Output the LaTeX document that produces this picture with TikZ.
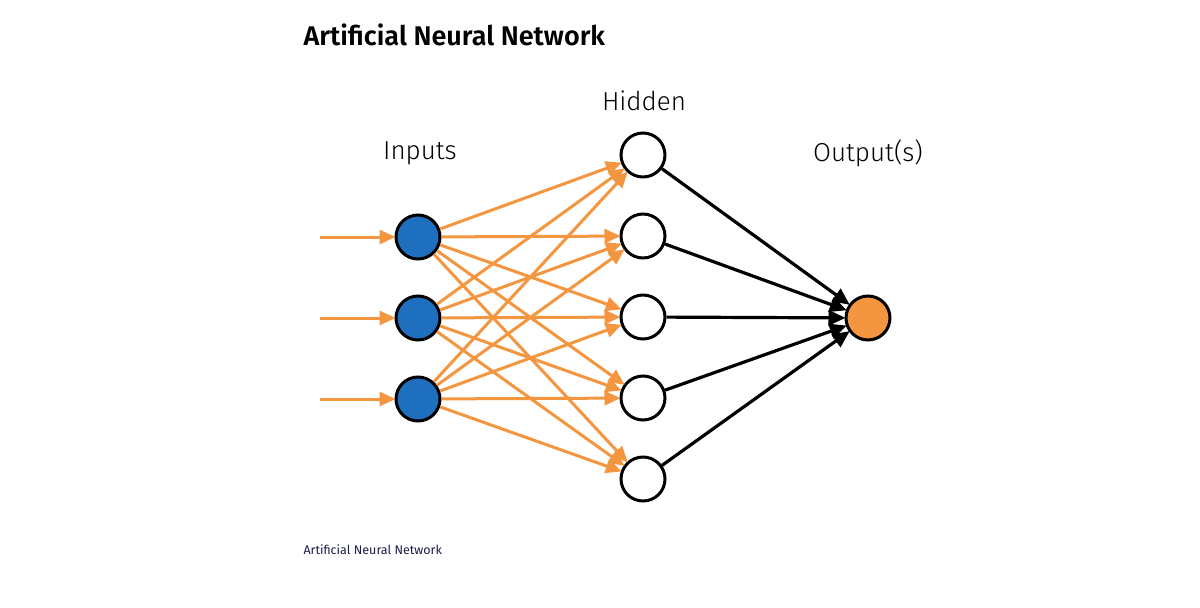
\documentclass[tikz,border=0pt]{standalone}
\usepackage{fontspec}
\setmainfont{Fira Sans}
\usetikzlibrary{arrows.meta}
\definecolor{bl}{HTML}{1F6FBF}
\definecolor{org}{HTML}{F4963F}
\definecolor{navy}{HTML}{1C1F4A}
\begin{document}
\begin{tikzpicture}[x=1pt,y=-1pt,
  neu/.style={circle,draw=black,line width=3pt,minimum size=44pt,inner sep=0pt},
  oa/.style={draw=org,line width=3pt,-{Triangle[length=16pt,width=14pt]},shorten >=-1pt},
  ba/.style={draw=black,line width=3.2pt,-{Triangle[length=17pt,width=15pt]},shorten >=-1pt},
  lab/.style={font=\fontsize{26}{30}\selectfont\fontspec{Fira Sans Light}}]
\useasboundingbox (0,0) rectangle (1200,608);
\fill[white] (0,0) rectangle (1200,608);
\node[anchor=west,font=\fontsize{27}{30}\selectfont\fontspec{Fira Sans SemiBold}] (title) at (300,35) {Artificial Neural Network};
\node[lab] (li) at (420,153) {Inputs};
\node[lab] (lh) at (644,101) {Hidden};
\node[lab] (lo) at (868,153) {Output(s)};
\node[anchor=west,text=navy,font=\fontsize{12.5}{15}\selectfont] (cap) at (300,550) {Artificial Neural Network};
\foreach \i/\y in {1/237,2/318,3/399}{
  \node[neu,fill=bl] (i\i) at (418,\y) {};
  \coordinate (s\i) at (320,\y);
  \draw[oa] (s\i) -- (i\i);
}
\foreach \j/\y in {1/155,2/236,3/317,4/398,5/479}{
  \node[neu,fill=white] (h\j) at (643,\y) {};
}
\node[neu,fill=org] (o) at (868,318) {};
\foreach \i in {1,2,3}{\foreach \j in {1,...,5}{\draw[oa] (i\i) -- (h\j);}}
\foreach \j in {1,...,5}{\draw[ba] (h\j) -- (o);}
\end{tikzpicture}
\end{document}
